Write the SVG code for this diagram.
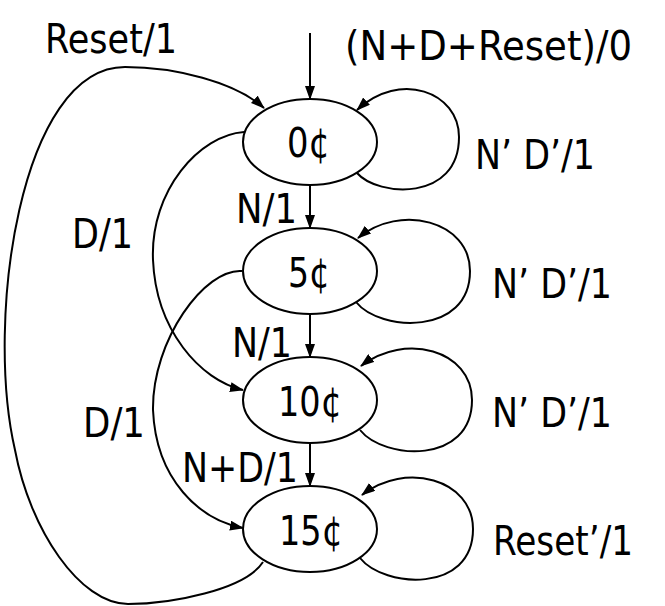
<svg xmlns="http://www.w3.org/2000/svg" width="665" height="606" viewBox="0 0 665 606">
<style>
  .st { fill: #ffffff; stroke: #000000; stroke-width: 2; }
  .ed { fill: none; stroke: #000000; stroke-width: 2; marker-end: url(#ah); }
  text { font-family: "DejaVu Sans", "Liberation Sans", sans-serif; font-size: 40px; fill: #000000; }
</style>
<defs>
  <marker id="ah" viewBox="0 0 14 10" refX="13" refY="5" markerWidth="14" markerHeight="10" markerUnits="userSpaceOnUse" orient="auto">
    <path d="M0,0 L14,5 L0,10 Z" fill="#000000"/>
  </marker>
</defs>
<rect width="665" height="606" fill="#ffffff"/>
<g id="connectors">
  <path class="ed" d="M310,33 L310,99"/>
  <path class="ed" d="M310,185 L310,228"/>
  <path class="ed" d="M310,314 L310,357"/>
  <path class="ed" d="M310,443 L310,486"/>
  <path class="ed" d="M357,173 C378,197 459,202 459,137 C459,92 400,70 357,110"/>
  <path class="ed" d="M356,302 C380,332 470,336 470,271 C470,221 400,203 358,238"/>
  <path class="ed" d="M360,430 C384,460 472,465 472,400 C472,350 405,332 361,366"/>
  <path class="ed" d="M360,558 C384,588 473,594 473,529 C473,479 405,461 362,495"/>
  <path class="ed" d="M263,562 C245,590 170,604 128,604 C80,604 30,530 15,450 C-15,320 20,67 125,67 C175,67 235,82 264,108"/>
  <path class="ed" d="M244,132 C200,135 150,190 153,260 C156,330 200,380 243,390"/>
  <path class="ed" d="M242,271 C205,268 152,340 153,410 C156,480 200,520 243,528"/>
</g>
<g id="s0">
  <ellipse class="st" cx="310" cy="142" rx="67" ry="43"/>
  <text x="287" y="157" textLength="43" lengthAdjust="spacingAndGlyphs">0¢</text>
</g>
<g id="s5">
  <ellipse class="st" cx="310" cy="271" rx="67" ry="43"/>
  <text x="288" y="287" textLength="42" lengthAdjust="spacingAndGlyphs">5¢</text>
</g>
<g id="s10">
  <ellipse class="st" cx="310" cy="400" rx="67" ry="43"/>
  <text x="278" y="416" textLength="64" lengthAdjust="spacingAndGlyphs">10¢</text>
</g>
<g id="s15">
  <ellipse class="st" cx="310" cy="529" rx="67" ry="43"/>
  <text x="279" y="545" textLength="64" lengthAdjust="spacingAndGlyphs">15¢</text>
</g>
<g id="labels">
  <text x="45" y="53" textLength="132" lengthAdjust="spacingAndGlyphs">Reset/1</text>
  <text x="345" y="60" textLength="287" lengthAdjust="spacingAndGlyphs">(N+D+Reset)/0</text>
  <text x="475" y="169" textLength="120" lengthAdjust="spacingAndGlyphs">N’ D’/1</text>
  <text x="236" y="223" textLength="61" lengthAdjust="spacingAndGlyphs">N/1</text>
  <text x="72" y="248" textLength="61" lengthAdjust="spacingAndGlyphs">D/1</text>
  <text x="492" y="298" textLength="120" lengthAdjust="spacingAndGlyphs">N’ D’/1</text>
  <text x="232" y="357" textLength="60" lengthAdjust="spacingAndGlyphs">N/1</text>
  <text x="492" y="427" textLength="120" lengthAdjust="spacingAndGlyphs">N’ D’/1</text>
  <text x="83" y="437" textLength="62" lengthAdjust="spacingAndGlyphs">D/1</text>
  <text x="182" y="482" textLength="116" lengthAdjust="spacingAndGlyphs">N+D/1</text>
  <text x="493" y="555" textLength="140" lengthAdjust="spacingAndGlyphs">Reset’/1</text>
</g>
</svg>
